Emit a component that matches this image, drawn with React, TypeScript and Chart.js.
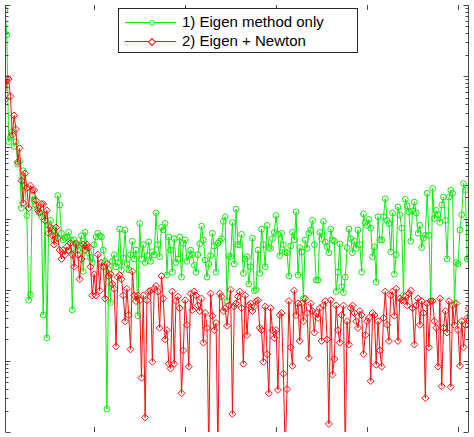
import React, { useEffect, useRef } from "react";
import { Chart, registerables } from "chart.js";

Chart.register(...registerables);

// ---- data -------------------------------------------------------------
const seriesLabels = ["1) Eigen method only", "2) Eigen + Newton"];

// iteration numbers 1..256 (x axis categories)
const iterations: number[] = Array.from({ length: 256 }, (_, i) => i + 1);

// x tick positions (unlabelled, inward ticks)
const xTicks = [50, 100, 150, 200, 250];

// y decades of the log axis (unlabelled, inward ticks)
const yDecades = [1e-7, 1e-6, 1e-5, 1e-4, 1e-3, 1e-2, 1e-1];

// 1) Eigen method only
const eigenOnly = [
  8.5e-2, 3.8e-2, 1.2e-3, 1.4e-3, 1.65e-3, 1.03e-3, 1.2e-3, 5.8e-4, 6.4e-4, 1.4e-4,
  4.7e-4, 2.9e-4, 1.1e-4, 7.1e-6, 8.5e-6, 2.1e-4, 1.8e-4, 1.55e-4, 1.4e-4, 1.24e-4,
  1.06e-4, 4.4e-6, 1.13e-4, 2.1e-6, 8.0e-5, 9.4e-5, 7.3e-5, 5.0e-5, 5.8e-5, 2.1e-4,
  1.55e-4, 6.2e-5, 5.0e-5, 5.3e-5, 5.5e-5, 6.4e-5, 5.0e-5, 5.2e-6, 5.0e-5, 4.3e-5,
  3.6e-5, 4.3e-5, 5.7e-5, 1.8e-5, 6.4e-5, 4.0e-5, 3.3e-5, 2.8e-5, 2.4e-5, 4.3e-5,
  5.5e-5, 6.2e-5, 5.7e-5, 5.5e-5, 3.6e-5, 2.5e-5, 2.1e-7, 1.9e-5, 6.6e-6, 2.5e-5,
  3.1e-5, 2.1e-5, 2.4e-5, 7.1e-5, 1.9e-5, 2.8e-5, 6.9e-5, 2.3e-5, 1.9e-5, 3.1e-5,
  4.8e-5, 2.7e-5, 3.6e-5, 4.3e-6, 8.5e-5, 2.7e-5, 4.3e-5, 2.4e-5, 3.0e-5, 4.7e-5,
  2.5e-5, 3.4e-5, 3.1e-5, 1.2e-4, 4.3e-5, 2.9e-5, 7.5e-5, 6.9e-5, 8.5e-5, 1.6e-5,
  5.5e-5, 3.6e-5, 1.76e-5, 5.2e-5, 2.4e-5, 2.7e-5, 5.5e-5, 1.5e-5, 4.5e-5, 5.0e-5,
  2.5e-5, 3.0e-5, 3.6e-5, 3.1e-5, 2.2e-5, 1.76e-5, 3.1e-5, 4.4e-5, 7.8e-5, 5.0e-5,
  2.6e-5, 1.5e-5, 2.3e-5, 3.0e-5, 6.2e-5, 4.1e-5, 1.76e-5, 4.5e-5, 4.8e-5, 5.2e-5,
  9.1e-5, 1.06e-4, 6.9e-6, 3.0e-5, 2.9e-5, 8.8e-5, 2.3e-5, 1.36e-4, 4.3e-5, 4.3e-5,
  6.0e-5, 1.7e-5, 2.7e-5, 2.9e-5, 1.2e-5, 2.1e-5, 5.3e-5, 9.7e-6, 1.0e-5, 3.6e-5,
  1.7e-5, 7.1e-5, 4.3e-5, 2.1e-5, 8.0e-5, 3.9e-5, 3.8e-5, 5.2e-5, 6.4e-5, 1.1e-4,
  6.0e-5, 3.0e-5, 6.2e-5, 4.3e-5, 3.4e-5, 3.3e-5, 1.55e-5, 4.1e-5, 6.4e-5, 5.0e-5,
  1.24e-4, 1.6e-5, 3.9e-5, 3.4e-5, 7.5e-6, 5.0e-5, 3.8e-5, 6.2e-5, 6.9e-5, 9.4e-5,
  4.3e-5, 1.36e-5, 1.36e-5, 6.4e-5, 5.2e-5, 9.1e-5, 4.7e-5, 4.0e-5, 3.3e-5, 7.1e-5,
  5.0e-5, 4.8e-5, 9.4e-6, 1.76e-5, 4.4e-5, 1.1e-5, 9.1e-6, 1.5e-5, 3.9e-5, 7.1e-5,
  5.2e-5, 3.3e-5, 4.8e-5, 3.8e-5, 6.9e-5, 4.3e-5, 1.76e-5, 1.16e-4, 8.8e-5, 8.0e-5,
  9.7e-5, 7.3e-5, 2.9e-5, 4.0e-5, 1.28e-5, 1.06e-4, 5.0e-5, 5.0e-5, 1.06e-4, 1.9e-4,
  9.4e-5, 8.5e-5, 3.4e-5, 1.2e-4, 1.65e-5, 3.1e-5, 1.45e-4, 1.13e-4, 7.3e-5, 8.3e-6,
  1.87e-4, 1.5e-4, 1.24e-4, 4.8e-5, 1.28e-4, 1.7e-4, 1.2e-4, 6.2e-5, 8.0e-5, 3.9e-5,
  5.3e-5, 5.8e-5, 2.26e-4, 5.8e-5, 6.9e-6, 2.65e-4, 1.0e-4, 1.3e-4, 1.13e-4, 8.8e-5,
  1.55e-4, 2.0e-4, 9.4e-5, 2.7e-5, 2.0e-4, 2.5e-4, 2.26e-4, 6.4e-6, 2.4e-5, 2.3e-5,
  6.9e-5, 1.13e-4, 3.1e-4, 2.5e-4, 2.7e-5, 2.8e-5,
];

// 2) Eigen + Newton
const eigenNewton = [
  4.7e-3, 9.1e-3, 9.1e-3, 5.2e-3, 1.5e-3, 2.8e-3, 1.8e-3, 6.2e-4, 9.7e-4, 3.4e-4,
  1.65e-4, 4.3e-4, 2.7e-4, 1.4e-4, 2.9e-4, 2.5e-4, 2.5e-4, 1.8e-4, 1.3e-4, 1.2e-4,
  1.6e-4, 1.6e-4, 9.4e-5, 1.3e-4, 6.2e-5, 7.5e-5, 5.8e-5, 4.3e-5, 7.5e-5, 5.3e-5,
  3.6e-5, 2.7e-5, 3.6e-5, 3.1e-5, 4.0e-5, 3.6e-5, 4.5e-5, 3.1e-5, 2.1e-5, 4.5e-5,
  3.1e-5, 1.4e-5, 2.7e-5, 4.3e-5, 3.6e-5, 4.3e-5, 3.9e-5, 2.1e-5, 8.3e-6, 1.65e-5,
  8.3e-6, 3.1e-5, 9.7e-6, 2.4e-5, 2.1e-5, 7.5e-6, 2.3e-5, 1.55e-5, 1.65e-5, 1.2e-5,
  1.03e-5, 1.6e-6, 1.5e-5, 1.6e-5, 1.4e-5, 8.3e-6, 3.6e-6, 1.03e-5, 4.4e-6, 1.45e-6,
  1.8e-5, 8.3e-6, 6.9e-6, 8.3e-6, 7.1e-6, 5.8e-7, 8.3e-6, 1.6e-7, 7.1e-6, 9.4e-6,
  9.7e-6, 9.7e-7, 1.03e-5, 1.13e-5, 9.4e-6, 2.9e-6, 1.55e-5, 7.5e-6, 2.0e-6, 2.7e-6,
  9.1e-7, 7.8e-7, 9.4e-6, 9.1e-7, 6.9e-6, 8.0e-6, 5.5e-6, 3.5e-7, 1.4e-6, 7.1e-6,
  3.2e-6, 8.3e-7, 8.8e-6, 5.2e-6, 9.4e-6, 8.3e-6, 6.0e-6, 5.0e-6, 7.5e-6, 1.8e-6,
  4.7e-6, 2.9e-6, 5e-8, 8.8e-6, 4.3e-6, 2.7e-6, 3.4e-6, 5e-8, 8.8e-6, 8.0e-6,
  5.0e-6, 5.5e-6, 3.1e-6, 6.0e-6, 1.0e-5, 1.8e-7, 5.8e-6, 6.4e-6, 8.0e-6, 9.4e-6,
  5.5e-6, 9.1e-7, 8.3e-6, 2.3e-6, 6.0e-6, 6.4e-6, 5.0e-6, 5.8e-6, 6.9e-6, 7.1e-6,
  2.9e-6, 2.7e-6, 9.7e-7, 5.8e-6, 1.24e-6, 3.5e-7, 5.5e-6, 2.7e-6, 2.1e-6, 2.7e-6,
  3.9e-7, 4.4e-6, 4.7e-6, 6.6e-7, 5e-8, 4.0e-7, 6.9e-6, 1.55e-6, 8.5e-7, 9.7e-6,
  4.4e-6, 6.4e-6, 1.9e-6, 6.4e-6, 3.6e-6, 7.5e-6, 4.7e-6, 1.1e-6, 6.4e-6, 5.0e-6,
  2.5e-6, 4.7e-6, 4.0e-6, 5.5e-6, 1.9e-6, 6.0e-6, 6.9e-6, 2.0e-6, 1.3e-7, 7.1e-6,
  6.4e-7, 1.06e-6, 6.0e-6, 2.7e-6, 1.8e-6, 4.4e-6, 6.0e-6, 5e-8, 3.6e-6, 1.7e-6,
  5.5e-6, 6.0e-6, 4.7e-6, 3.6e-6, 2.9e-6, 5.0e-6, 4.4e-6, 1.24e-6, 2.3e-6, 3.6e-6,
  4.0e-6, 5.2e-7, 4.7e-6, 4.4e-6, 8.8e-7, 3.6e-6, 1.4e-6, 8.3e-7, 4.0e-6, 9.4e-6,
  3.2e-6, 1.9e-6, 8.3e-6, 9.4e-6, 4.3e-6, 1.03e-5, 1.9e-6, 7.5e-6, 7.1e-6, 7.1e-6,
  8.0e-6, 6.0e-6, 8.8e-6, 9.7e-6, 5.5e-6, 1.7e-6, 6.0e-6, 7.5e-6, 3.2e-6, 6.9e-6,
  4.7e-6, 3.0e-7, 6.4e-6, 1.55e-6, 6.9e-6, 6.9e-6, 3.6e-6, 2.9e-6, 8.3e-7, 7.5e-6,
  4.4e-7, 2.9e-6, 5.0e-6, 2.5e-6, 6.9e-6, 4.3e-7, 6.0e-6, 3.2e-6, 6.4e-6, 2.7e-6,
  8.5e-7, 3.6e-6, 1.55e-6, 3.2e-6, 4.0e-6, 5.5e-6,
];

// ---- styles -------------------------------------------------------------
const GREEN = "#10e810";
const RED = "#f21010";
const AXIS = "#4a4a4a";
const W = 474;
const H = 437;

const matlabFrame = {
  id: "matlabFrame",
  afterDatasetsDraw(chart: any) {
    const { ctx, chartArea: a, scales } = chart;
    const ys = scales.y;
    const xs = scales.x;
    ctx.save();
    ctx.strokeStyle = AXIS;
    ctx.lineWidth = 1;
    ctx.beginPath();
    const L = Math.round(a.left) + 0.5;
    const R = Math.round(a.right) - 0.5;
    ctx.moveTo(L, a.top);
    ctx.lineTo(L, a.bottom);
    ctx.moveTo(R, a.top);
    ctx.lineTo(R, a.bottom);
    for (const d of yDecades) {
      for (let m = 1; m < 10; m++) {
        const v = d * m;
        if (v > ys.max * 1.0001) break;
        const y = Math.round(ys.getPixelForValue(v)) + 0.5;
        const len = m === 1 ? 5 : 3;
        ctx.moveTo(L, y);
        ctx.lineTo(L + len, y);
        ctx.moveTo(R, y);
        ctx.lineTo(R - len, y);
      }
    }
    for (const t of xTicks) {
      const x = Math.round(xs.getPixelForValue(t)) + 0.5;
      ctx.moveTo(x, a.top);
      ctx.lineTo(x, a.top + 5);
      ctx.moveTo(x, a.bottom);
      ctx.lineTo(x, a.bottom - 5);
    }
    ctx.stroke();
    ctx.restore();
  },
};

export default function App() {
  const ref = useRef<HTMLCanvasElement>(null);

  useEffect(() => {
    const canvas = ref.current;
    if (!canvas) return;
    const chart = new Chart(canvas, {
      type: "line",
      data: {
        datasets: [
          {
            label: seriesLabels[0],
            data: iterations.map((x, i) => ({ x, y: eigenOnly[i] })),
            borderColor: GREEN,
            borderWidth: 1,
            backgroundColor: "transparent",
            pointStyle: "circle",
            pointRadius: 2.9,
            pointBorderWidth: 1,
            pointBorderColor: GREEN,
            pointBackgroundColor: "rgba(0,0,0,0)",
            tension: 0,
            order: 1,
          },
          {
            label: seriesLabels[1],
            data: iterations.map((x, i) => ({ x, y: eigenNewton[i] })),
            borderColor: RED,
            borderWidth: 1,
            backgroundColor: "transparent",
            pointStyle: "rectRot",
            pointRadius: 3.5,
            pointBorderWidth: 1,
            pointBorderColor: RED,
            pointBackgroundColor: "rgba(0,0,0,0)",
            tension: 0,
            order: 0,
          },
        ],
      },
      options: {
        responsive: false,
        animation: false,
        devicePixelRatio: 1,
        events: [],
        layout: { padding: { left: 1, right: 3, top: 0, bottom: 0 } },
        plugins: { legend: { display: false }, tooltip: { enabled: false } },
        scales: {
          x: { type: "linear", min: 1, max: 256, display: false },
          y: { type: "logarithmic", min: 1e-7, max: 1e-1, display: false },
        },
      },
      plugins: [matlabFrame],
    } as any);
    return () => chart.destroy();
  }, []);

  const font = '"Liberation Sans", Arial, Helvetica, sans-serif';
  const textStyle: React.CSSProperties = {
    position: "absolute",
    left: 63,
    fontFamily: font,
    fontSize: 15,
    lineHeight: "16px",
    color: "#000",
    whiteSpace: "nowrap",
  };
  const sampleLine = (top: number, color: string): React.CSSProperties => ({
    position: "absolute",
    left: 6,
    top,
    width: 51,
    height: 1,
    background: color,
  });

  return (
    <div style={{ position: "fixed", left: 0, top: 0, width: W, height: H, background: "#fff", overflow: "hidden" }}>
      <canvas ref={ref} width={W} height={H} style={{ display: "block", width: W, height: H }} />
      <div
        style={{
          position: "absolute",
          left: 118,
          top: 8,
          width: 240,
          height: 45,
          boxSizing: "border-box",
          border: "1px solid #262626",
          background: "#fff",
        }}
      >
        <div style={sampleLine(13, GREEN)} />
        <div
          style={{
            position: "absolute",
            left: 29.5,
            top: 10.5,
            width: 4,
            height: 4,
            borderRadius: "50%",
            border: `1px solid ${GREEN}`,
            background: "#fff",
          }}
        />
        <div style={sampleLine(32, RED)} />
        <div
          style={{
            position: "absolute",
            left: 30,
            top: 29.5,
            width: 4,
            height: 4,
            border: `1px solid ${RED}`,
            background: "#fff",
            transform: "rotate(45deg)",
          }}
        />
        <span style={{ ...textStyle, top: 5 }}>{seriesLabels[0]}</span>
        <span style={{ ...textStyle, top: 24 }}>{seriesLabels[1]}</span>
      </div>
    </div>
  );
}
